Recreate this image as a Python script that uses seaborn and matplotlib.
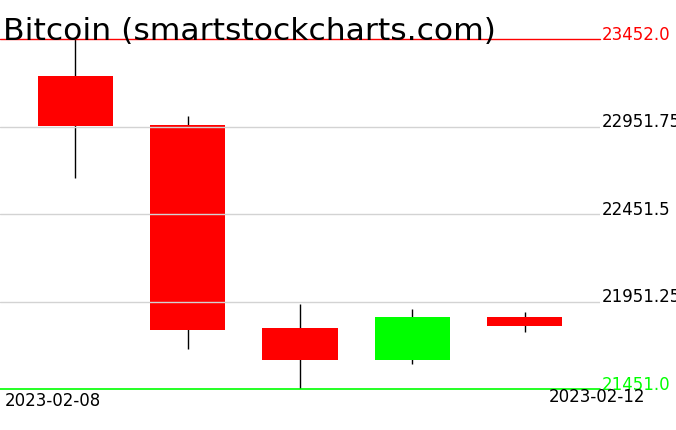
import numpy as np
import matplotlib
matplotlib.use("Agg")
import matplotlib.pyplot as plt
import matplotlib.transforms as mtransforms
import seaborn as sns

# Daily OHLC values
dates = ["2023-02-08", "2023-02-09", "2023-02-10", "2023-02-11", "2023-02-12"]
opens = [23240.5, 22960.0, 21800.0, 21618.0, 21863.0]
highs = [23452.0, 23010.0, 21937.0, 21908.0, 21891.0]
lows = [22657.0, 21681.0, 21451.0, 21596.0, 21779.0]
closes = [22956.0, 21788.0, 21618.0, 21863.0, 21811.0]

title = "Bitcoin (smartstockcharts.com)"

sns.set_style("white")
plt.rcParams["font.family"] = ["DejaVu Sans"]
plt.rcParams["text.color"] = "black"

fig = plt.figure(figsize=(6.76, 4.31), dpi=100)
ax = fig.add_axes([0, 1 - 390 / 431, 600 / 676, 350 / 431])

x = np.arange(len(dates))
o = np.array(opens)
c = np.array(closes)
body_lo = np.minimum(o, c)
body_hi = np.maximum(o, c)
colors = ["#00ff00" if cc > oo else "#ff0000" for oo, cc in zip(o, c)]

# wicks under the bodies
ax.vlines(x, lows, highs, color="black", lw=1, zorder=1)
ax.bar(x, body_hi - body_lo, bottom=body_lo, width=0.667, color=colors,
       linewidth=0, zorder=2)

lo, hi = min(lows), max(highs)
ticks = np.linspace(lo, hi, 5)
ax.set_ylim(lo, hi)
ax.set_xlim(-0.667, len(dates) - 1 + 0.667)

# grid lines sit on top of the candles
for t in ticks[1:-1]:
    ax.axhline(t, color="#d3d3d3", lw=1, zorder=3)
ax.axhline(hi, color="#ff0000", lw=1, zorder=3, clip_on=False)
ax.axhline(lo, color="#00ff00", lw=1.2, zorder=3, clip_on=False)

trans = mtransforms.blended_transform_factory(ax.transAxes, ax.transData)
for t in ticks:
    col = "#ff0000" if t == hi else ("#00ff00" if t == lo else "black")
    ax.text(1.0033, t, str(float(t)), transform=trans, color=col,
            fontsize=12, va="baseline", ha="left", clip_on=False)

ax.set_xticks([])
ax.set_yticks([])
for s in ax.spines.values():
    s.set_visible(False)

fig.text(5 / 676, 1 - 406 / 431, dates[0], fontsize=12, va="baseline", ha="left")
fig.text(645 / 676, 1 - 402 / 431, dates[-1], fontsize=12, va="baseline", ha="right")
fig.text(3 / 676, 1 - 39.5 / 431, title, fontsize=22.6, va="baseline", ha="left")

fig.savefig("out.png", dpi=100)
